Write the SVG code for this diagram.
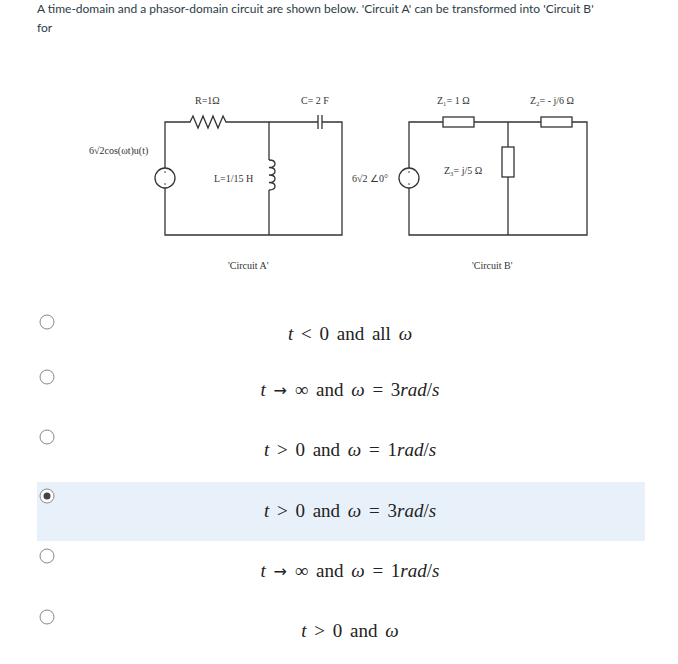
<svg xmlns="http://www.w3.org/2000/svg" width="678" height="664" viewBox="0 0 678 664">
<style>
.w{fill:none;stroke:#333;stroke-width:1.3}
.t{font-family:'Liberation Serif',serif;font-size:10px;fill:#333}
.q{font-family:Lato,'Liberation Sans',sans-serif;font-size:12px;fill:#2d3b45}
.m{font-family:'Liberation Serif',serif;font-size:19px;fill:#222;text-anchor:middle;word-spacing:3px}
.a{font-family:'DejaVu Sans',sans-serif;font-size:16px}
.r{fill:#fff;stroke:#888;stroke-width:1}
</style>
<rect width="678" height="664" fill="#fff"/>
<text class="q" x="37" y="13">A time-domain and a phasor-domain circuit are shown below. 'Circuit A' can be transformed into 'Circuit B'</text>
<text class="q" x="37" y="32">for</text>
<g id="circuitA">
<path class="w" d="M165,168V122H190l3-6 5,12 5-12 5,12 5-12 5,12 5-12 3,6H318M322,122H342V235H165V188M269,122V160M269,190V235"/>
<path class="w" d="M318,115V129M322,115V129"/>
<path class="w" d="M269,160c8,0 8,7.5 0,7.5c8,0 8,7.5 0,7.5c8,0 8,7.5 0,7.5c8,0 8,7.5 0,7.5"/>
<circle class="w" cx="165" cy="178" r="10"/>
<circle cx="165" cy="172" r="0.8" fill="#333"/><circle cx="165" cy="184" r="0.8" fill="#333"/>
<text class="t" x="195" y="104">R=1Ω</text>
<text class="t" x="301" y="104">C= 2 F</text>
<text class="t" x="89" y="154">6√2cos(ωt)u(t)</text>
<text class="t" x="214" y="182">L=1/15 H</text>
<text class="t" x="228" y="269">'Circuit A'</text>
</g>
<g id="circuitB">
<path class="w" d="M409,168V122H443M474,122H541M572,122H587V235H409V188M508,122V147M508,177V235"/>
<rect class="w" x="443" y="117" width="31" height="10"/>
<rect class="w" x="541" y="117" width="31" height="10"/>
<rect class="w" x="502" y="147" width="12" height="30"/>
<circle class="w" cx="409" cy="178" r="10"/>
<circle cx="409" cy="172" r="0.8" fill="#333"/><circle cx="409" cy="184" r="0.8" fill="#333"/>
<text class="t" x="437" y="104">Z₁= 1 Ω</text>
<text class="t" x="530" y="104">Z₂= - j/6 Ω</text>
<text class="t" x="352" y="182">6√2 ∠0°</text>
<text class="t" x="444" y="174">Z₃= j/5 Ω</text>
<text class="t" x="472" y="269">'Circuit B'</text>
</g>
<rect x="37" y="482" width="608" height="59" fill="#e8f1fa"/>
<g id="options">
<circle class="r" cx="47" cy="322" r="7"/>
<circle class="r" cx="47" cy="377" r="7"/>
<circle class="r" cx="47" cy="437" r="7"/>
<circle class="r" cx="47" cy="496" r="7" stroke="#555"/><circle cx="47" cy="496" r="3.5" fill="#444"/>
<circle class="r" cx="47" cy="556" r="7"/>
<circle class="r" cx="47" cy="617" r="7"/>
<text class="m" x="350" y="340"><tspan font-style="italic">t</tspan> &lt; 0 and all <tspan font-style="italic">ω</tspan></text>
<text class="m" x="350" y="396"><tspan font-style="italic">t</tspan> <tspan class="a">→</tspan> ∞ and <tspan font-style="italic">ω</tspan> = 3<tspan font-style="italic">rad</tspan>/<tspan font-style="italic">s</tspan></text>
<text class="m" x="350" y="456"><tspan font-style="italic">t</tspan> &gt; 0 and <tspan font-style="italic">ω</tspan> = 1<tspan font-style="italic">rad</tspan>/<tspan font-style="italic">s</tspan></text>
<text class="m" x="350" y="517"><tspan font-style="italic">t</tspan> &gt; 0 and <tspan font-style="italic">ω</tspan> = 3<tspan font-style="italic">rad</tspan>/<tspan font-style="italic">s</tspan></text>
<text class="m" x="350" y="577"><tspan font-style="italic">t</tspan> <tspan class="a">→</tspan> ∞ and <tspan font-style="italic">ω</tspan> = 1<tspan font-style="italic">rad</tspan>/<tspan font-style="italic">s</tspan></text>
<text class="m" x="350" y="637"><tspan font-style="italic">t</tspan> &gt; 0 and <tspan font-style="italic">ω</tspan></text>
</g>
</svg>
